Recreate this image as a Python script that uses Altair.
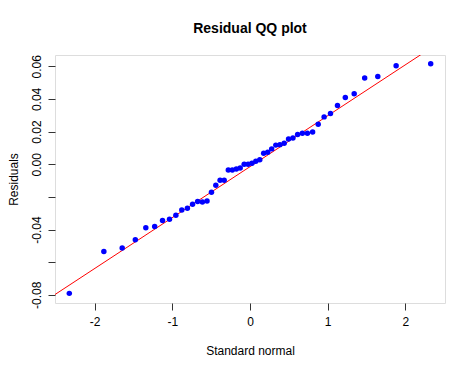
import altair as alt
import pandas as pd

# Theoretical quantiles (standard normal)
theoretical = [-2.326, -1.881, -1.645, -1.476, -1.341, -1.227, -1.126, -1.036, -0.954, -0.878,
               -0.806, -0.739, -0.674, -0.613, -0.553, -0.496, -0.440, -0.385, -0.332, -0.279,
               -0.228, -0.176, -0.126, -0.075, -0.025, 0.025, 0.075, 0.126, 0.176, 0.228,
               0.279, 0.332, 0.385, 0.440, 0.496, 0.553, 0.613, 0.674, 0.739, 0.806,
               0.878, 0.954, 1.036, 1.126, 1.227, 1.341, 1.476, 1.645, 1.881, 2.326]
# Sample residuals
residuals = [-0.0791, -0.0534, -0.0513, -0.0462, -0.0389, -0.0381, -0.0344, -0.0337, -0.0313, -0.0280,
             -0.0270, -0.0245, -0.0229, -0.0231, -0.0225, -0.0172, -0.0129, -0.0098, -0.0098, -0.0035,
             -0.0035, -0.0029, -0.0023, 0.0000, 0.0000, 0.0006, 0.0018, 0.0028, 0.0067, 0.0074,
             0.0094, 0.0117, 0.0120, 0.0129, 0.0155, 0.0160, 0.0182, 0.0190, 0.0190, 0.0198,
             0.0245, 0.0290, 0.0311, 0.0360, 0.0409, 0.0431, 0.0528, 0.0537, 0.0603, 0.0615]

# Reference line (qqline) parameters
line_intercept = -0.0015
line_slope = 0.0312

x_domain = [-2.51, 2.51]
y_domain = [-0.085, 0.0669]
x_ticks = [-2, -1, 0, 1, 2]
y_ticks = [-0.08, -0.06, -0.04, -0.02, 0.00, 0.02, 0.04, 0.06]

pts = pd.DataFrame({"q": theoretical, "r": residuals})
line_df = pd.DataFrame({"q": x_domain,
                        "r": [line_intercept + line_slope * v for v in x_domain]})

FONT = "Liberation Sans"

xscale = alt.Scale(domain=x_domain, nice=False, zero=False)
yscale = alt.Scale(domain=y_domain, nice=False, zero=False)

xaxis = alt.Axis(values=x_ticks, title="Standard normal", grid=False, domain=False,
                 tickSize=7, tickColor="#333333", labelPadding=6, labelOverlap=False,
                 labelExpr="replace(format(datum.value, 'd'), '\u2212', '-')",
                 labelFont=FONT, labelFontSize=12, labelColor="black",
                 titleFont=FONT, titleFontSize=12, titleFontWeight="normal",
                 titleColor="black", titlePadding=18)
yaxis = alt.Axis(values=y_ticks, title="Residuals", grid=False, domain=False,
                 tickSize=7, tickColor="#333333", labelPadding=5, labelOverlap=False,
                 labelAngle=-90, labelAlign="center", labelBaseline="bottom",
                 labelExpr="(abs(datum.value + 0.02) < 0.001 || abs(datum.value + 0.06) < 0.001) ? '' : replace(format(datum.value, '.2f'), '\u2212', '-')",
                 labelFont=FONT, labelFontSize=12, labelColor="black",
                 titleFont=FONT, titleFontSize=12, titleFontWeight="normal",
                 titleColor="black", titlePadding=10)

line = alt.Chart(line_df).mark_line(color="#FF0000", strokeWidth=1, clip=True).encode(
    x=alt.X("q:Q", scale=xscale, axis=xaxis),
    y=alt.Y("r:Q", scale=yscale, axis=yaxis),
)

points = alt.Chart(pts).mark_circle(size=30, color="#0000FF", opacity=1).encode(
    x=alt.X("q:Q", scale=xscale, axis=xaxis),
    y=alt.Y("r:Q", scale=yscale, axis=yaxis),
)

chart = alt.layer(line, points).properties(
    width=390, height=248,
    title=alt.TitleParams("Residual QQ plot", font=FONT, fontSize=14, fontWeight="bold",
                          anchor="middle", color="black", offset=19),
    autosize=alt.AutoSizeParams(type="none"),
    padding={"left": 47, "top": 47, "right": 21, "bottom": 61},
).configure_view(stroke="#444444", strokeWidth=1).configure(
    background="white"
).configure_axis(labelOverlap=False)

chart.save("out.html", embed_options={"renderer": "svg", "actions": False})
